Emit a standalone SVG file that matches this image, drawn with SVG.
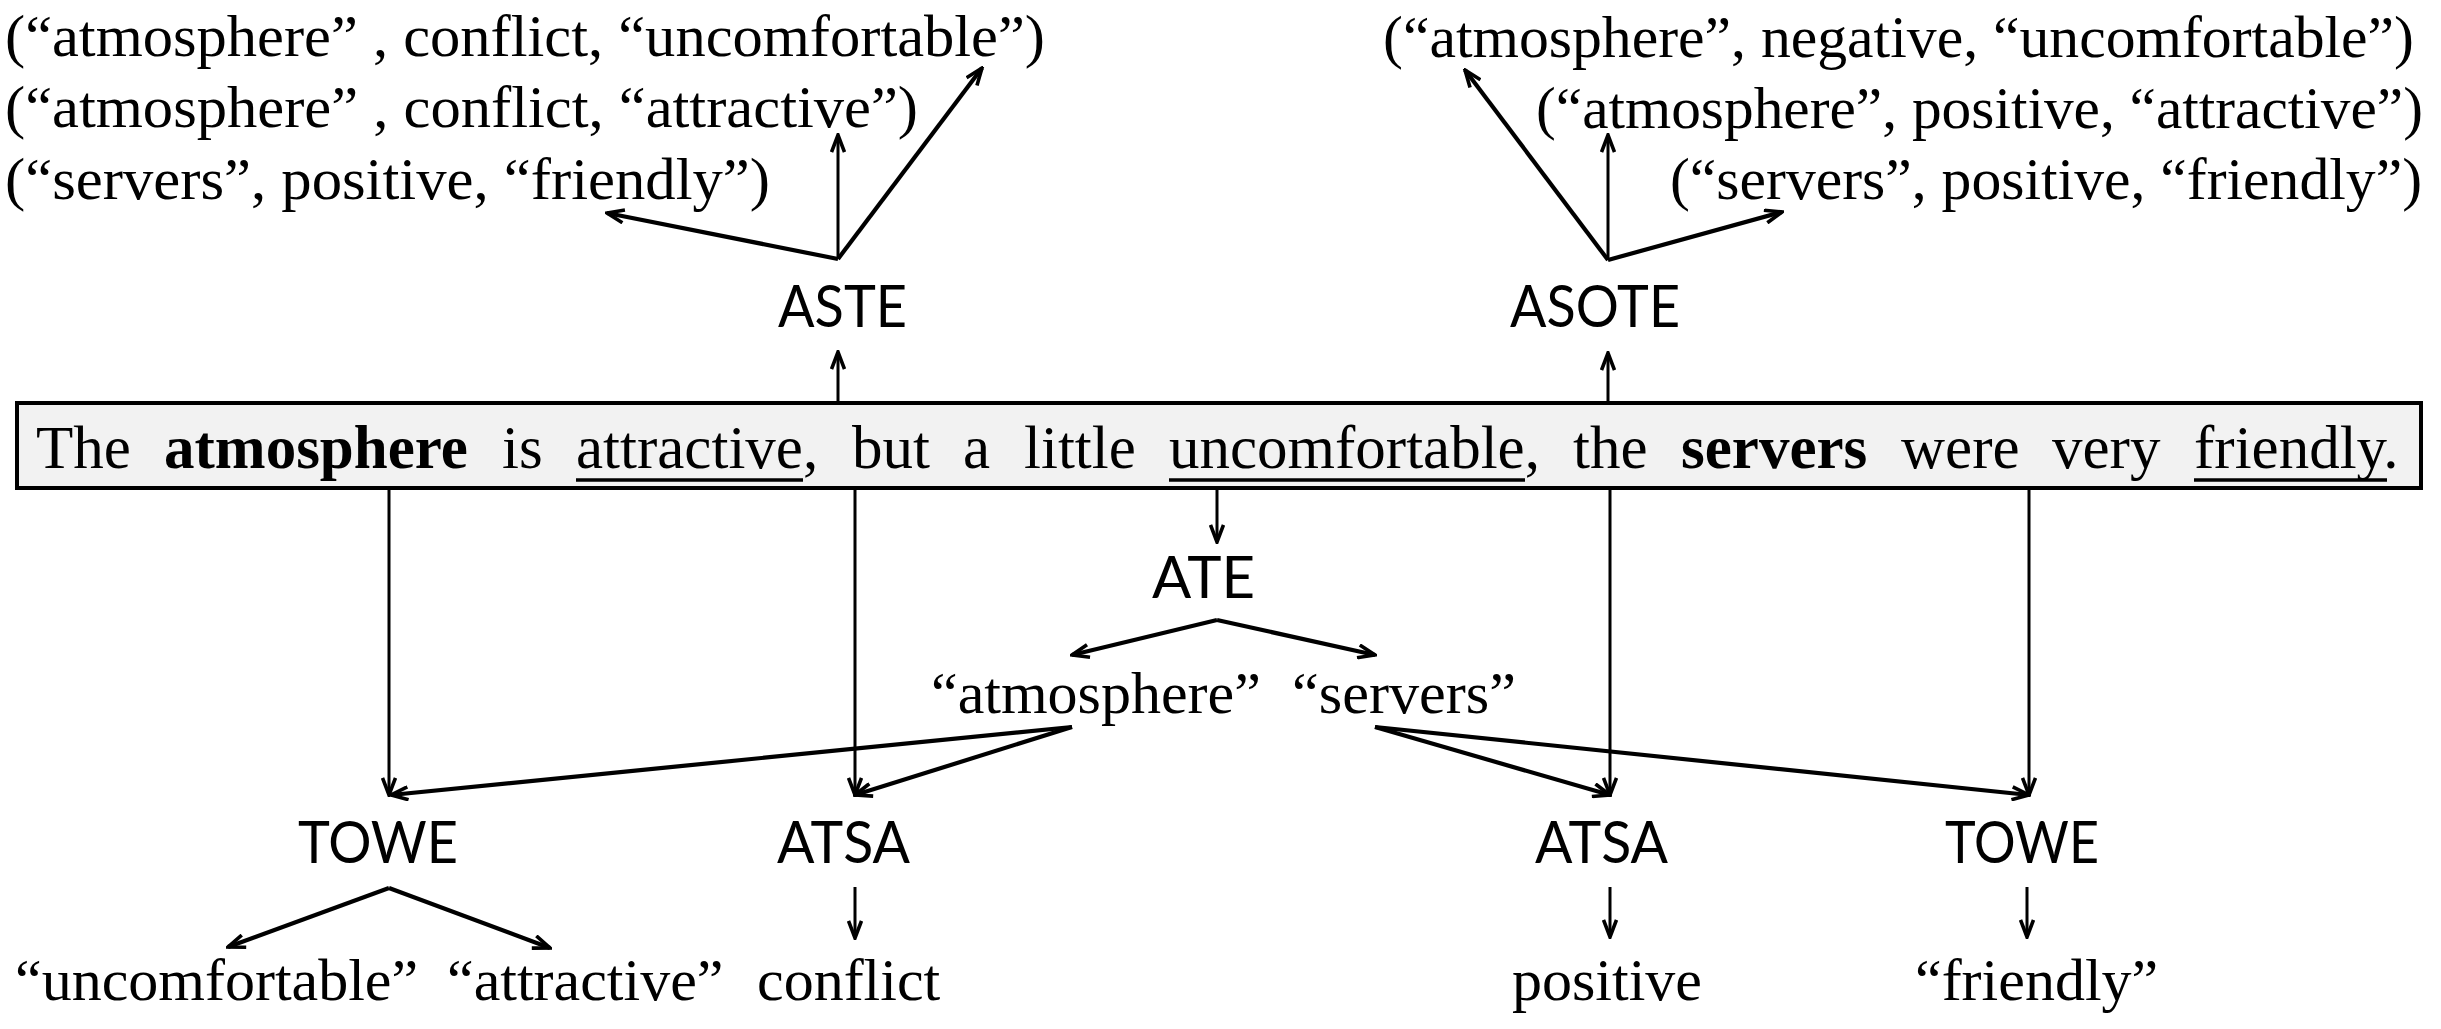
<svg xmlns="http://www.w3.org/2000/svg" width="2441" height="1029" viewBox="0 0 2441 1029">
<style>
.tr{font-family:"Liberation Serif","Times New Roman",serif;font-size:60px;fill:#000}
.sn{font-family:"Liberation Serif","Times New Roman",serif;font-size:61px;fill:#000}
.b{font-weight:bold}
.lb{font-family:Lato,"Open Sans","Liberation Sans",sans-serif;font-size:58px;fill:#000}
.c{fill:none;stroke:#000;stroke-width:4.2;marker-end:url(#ah)}
.v{fill:none;stroke:#000;stroke-width:3;marker-end:url(#ah)}
.ul{stroke:#000;stroke-width:3.5}
</style>
<defs>
<marker id="ah" markerUnits="userSpaceOnUse" viewBox="0 0 22 16" markerWidth="22" markerHeight="16" refX="20" refY="8" orient="auto">
<path d="M3,1.5 L20,8 L3,14.5" fill="none" stroke="#000" stroke-width="3.6" stroke-linejoin="miter"/>
</marker>
</defs>
<rect width="2441" height="1029" fill="#fff"/>

<g id="connectors">
<path class="c" d="M838,259 L607,213"/>
<path class="v" d="M838,259 L838,135"/>
<path class="c" d="M838,259 L982,68"/>
<path class="v" d="M838,403 L838,352"/>
<path class="c" d="M1608,260 L1465,70"/>
<path class="v" d="M1608,260 L1608,135"/>
<path class="c" d="M1608,260 L1782,212"/>
<path class="v" d="M1608,403 L1608,353"/>
<path class="v" d="M1217,488 L1217,542"/>
<path class="c" d="M1217,620 L1072,655"/>
<path class="c" d="M1217,620 L1375,655"/>
<path class="v" d="M389,488 L389,795"/>
<path class="v" d="M855,488 L855,795"/>
<path class="v" d="M1610,488 L1610,795"/>
<path class="v" d="M2029,488 L2029,795"/>
<path class="c" d="M1072,727 L391,795"/>
<path class="c" d="M1072,727 L855,795"/>
<path class="c" d="M1375,727 L1610,795"/>
<path class="c" d="M1375,727 L2029,795"/>
<path class="c" d="M389,888 L228,947"/>
<path class="c" d="M389,888 L550,948"/>
<path class="v" d="M855,887 L855,938"/>
<path class="v" d="M1610,887 L1610,937"/>
<path class="v" d="M2027,887 L2027,937"/>
</g>

<g id="aste-outputs">
<text class="tr" x="5" y="56" textLength="1040" lengthAdjust="spacingAndGlyphs">(“atmosphere” , conflict, “uncomfortable”)</text>
<text class="tr" x="5" y="127" textLength="913" lengthAdjust="spacingAndGlyphs">(“atmosphere” , conflict, “attractive”)</text>
<text class="tr" x="5" y="199" textLength="765" lengthAdjust="spacingAndGlyphs">(“servers”, positive, “friendly”)</text>
</g>
<g id="asote-outputs">
<text class="tr" x="1383" y="57" textLength="1031" lengthAdjust="spacingAndGlyphs">(“atmosphere”, negative, “uncomfortable”)</text>
<text class="tr" x="1536" y="128" textLength="887" lengthAdjust="spacingAndGlyphs">(“atmosphere”, positive, “attractive”)</text>
<text class="tr" x="1670" y="199" textLength="752" lengthAdjust="spacingAndGlyphs">(“servers”, positive, “friendly”)</text>
</g>

<g id="aste"><text class="lb" x="778" y="327" textLength="129" lengthAdjust="spacingAndGlyphs">ASTE</text></g>
<g id="asote"><text class="lb" x="1510" y="327" textLength="170" lengthAdjust="spacingAndGlyphs">ASOTE</text></g>

<g id="sentence">
<rect x="17" y="403" width="2404" height="85" fill="#f2f2f2" stroke="#000" stroke-width="4"/>
<text class="sn" y="468"><tspan x="36">The</tspan><tspan x="164" class="b">atmosphere</tspan><tspan x="502">is</tspan><tspan x="576">attractive,</tspan><tspan x="852">but</tspan><tspan x="963">a</tspan><tspan x="1024">little</tspan><tspan x="1169">uncomfortable,</tspan><tspan x="1573">the</tspan><tspan x="1681" class="b">servers</tspan><tspan x="1901">were</tspan><tspan x="2052">very</tspan><tspan x="2194">friendly.</tspan></text>
<line class="ul" x1="576" y1="480" x2="803" y2="480"/>
<line class="ul" x1="1169" y1="480" x2="1525" y2="480"/>
<line class="ul" x1="2194" y1="480" x2="2387" y2="480"/>
</g>

<g id="ate"><text class="lb" x="1152" y="598" textLength="103" lengthAdjust="spacingAndGlyphs">ATE</text></g>
<g id="aspect-atmosphere"><text class="tr" x="931" y="713">“atmosphere”</text></g>
<g id="aspect-servers"><text class="tr" x="1292" y="713" textLength="224" lengthAdjust="spacingAndGlyphs">“servers”</text></g>

<g id="towe-left"><text class="lb" x="298" y="863" textLength="160" lengthAdjust="spacingAndGlyphs">TOWE</text></g>
<g id="atsa-left"><text class="lb" x="777" y="863" textLength="133" lengthAdjust="spacingAndGlyphs">ATSA</text></g>
<g id="atsa-right"><text class="lb" x="1535" y="863" textLength="133" lengthAdjust="spacingAndGlyphs">ATSA</text></g>
<g id="towe-right"><text class="lb" x="1945" y="863" textLength="154" lengthAdjust="spacingAndGlyphs">TOWE</text></g>

<g id="opinion-uncomfortable"><text class="tr" x="15" y="1000">“uncomfortable”</text></g>
<g id="opinion-attractive"><text class="tr" x="447" y="1000">“attractive”</text></g>
<g id="sentiment-conflict"><text class="tr" x="757" y="1000">conflict</text></g>
<g id="sentiment-positive"><text class="tr" x="1512" y="1000">positive</text></g>
<g id="opinion-friendly"><text class="tr" x="1915" y="1000">“friendly”</text></g>
</svg>
